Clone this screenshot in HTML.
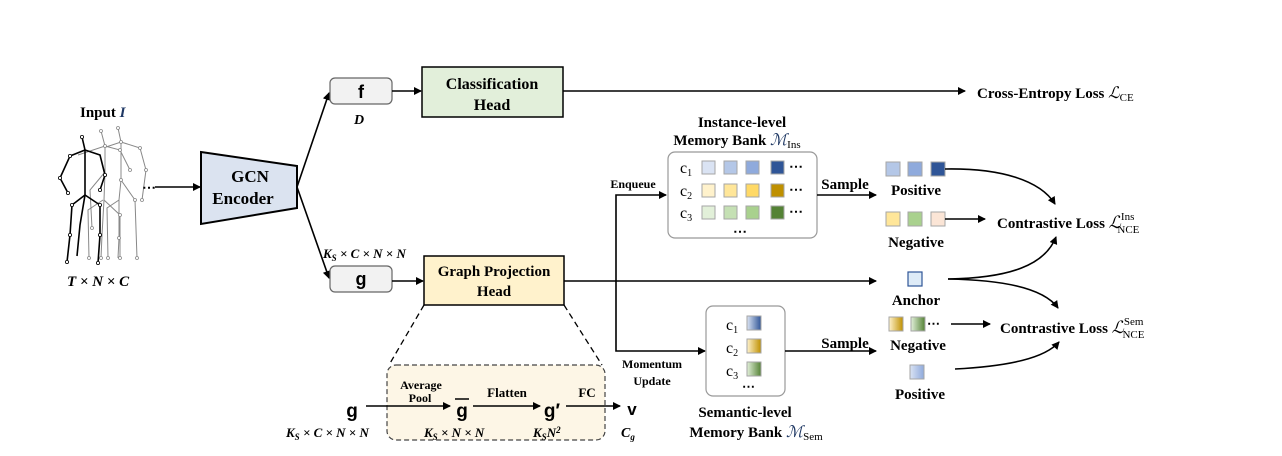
<!DOCTYPE html>
<html><head><meta charset="utf-8"><style>
html,body{margin:0;padding:0;background:#fff}
svg{display:block}
text{font-family:"Liberation Serif",serif;font-weight:bold;fill:#000}
.s{font-family:"Liberation Sans",sans-serif}
.i{font-style:italic}
</style></head><body>
<svg width="1282" height="456" viewBox="0 0 1282 456" xmlns="http://www.w3.org/2000/svg">
<defs>
<marker id="a" markerWidth="8" markerHeight="8" refX="7" refY="4" orient="auto" markerUnits="userSpaceOnUse"><path d="M0,0 L8,4 L0,8 z" fill="#000"/></marker>
<linearGradient id="gb" x1="0" x2="1"><stop offset="0" stop-color="#dae3f3"/><stop offset="1" stop-color="#2f5597"/></linearGradient>
<linearGradient id="gy" x1="0" x2="1"><stop offset="0" stop-color="#fff2cc"/><stop offset="1" stop-color="#bf9000"/></linearGradient>
<linearGradient id="gg" x1="0" x2="1"><stop offset="0" stop-color="#e2f0d9"/><stop offset="1" stop-color="#548235"/></linearGradient>
<linearGradient id="gbl" x1="0" x2="1"><stop offset="0" stop-color="#dae3f3"/><stop offset="1" stop-color="#8faadc"/></linearGradient>
</defs>

<!-- Input -->
<text x="80" y="117" font-size="15">Input <tspan class="i" fill="#1f3864">I</tspan></text>
<g fill="none" stroke="#888" stroke-width="1">
 <!-- figure 3 -->
 <polyline points="118,128 121,142 121,180 119,200 119,238 118,258"/>
 <polyline points="106,147 121,142 140,148 146,170 142,200"/>
 <polyline points="121,180 135,200 137,258"/>
 <polyline points="119,200 107,208 108,258"/>
 <!-- figure 2 -->
 <polyline points="101,131 105,146 105,172 104,200 102,235 101,258"/>
 <polyline points="78,155 105,146 120,150 130,170"/>
 <polyline points="105,172 90,190 92,228"/>
 <polyline points="104,200 120,215 120,258"/>
 <polyline points="103,200 88,210 89,258"/>
</g>
<g fill="#fff" stroke="#888" stroke-width="0.8">
 <circle cx="118" cy="128" r="1.5"/><circle cx="121" cy="142" r="1.5"/><circle cx="140" cy="148" r="1.5"/><circle cx="146" cy="170" r="1.5"/><circle cx="142" cy="200" r="1.5"/><circle cx="135" cy="200" r="1.5"/><circle cx="137" cy="258" r="1.5"/><circle cx="119" cy="238" r="1.5"/><circle cx="108" cy="258" r="1.5"/><circle cx="121" cy="180" r="1.5"/>
 <circle cx="101" cy="131" r="1.5"/><circle cx="105" cy="146" r="1.5"/><circle cx="120" cy="150" r="1.5"/><circle cx="130" cy="170" r="1.5"/><circle cx="92" cy="228" r="1.5"/><circle cx="120" cy="258" r="1.5"/><circle cx="89" cy="258" r="1.5"/><circle cx="101" cy="258" r="1.5"/><circle cx="120" cy="215" r="1.5"/>
</g>
<g fill="none" stroke="#000" stroke-width="1.6">
 <polyline points="82,137 85,150 85,195 80,225 77,256"/>
 <polyline points="85,150 70,156 60,178 68,193"/>
 <polyline points="85,150 100,155 105,175 100,190"/>
 <polyline points="85,195 72,205 70,235 67,262"/>
 <polyline points="85,195 100,205 100,235 98,263"/>
</g>
<g fill="#fff" stroke="#000" stroke-width="0.8">
 <circle cx="82" cy="137" r="1.6"/><circle cx="70" cy="156" r="1.6"/><circle cx="60" cy="178" r="1.6"/><circle cx="68" cy="193" r="1.6"/><circle cx="105" cy="175" r="1.6"/><circle cx="100" cy="190" r="1.6"/><circle cx="72" cy="205" r="1.6"/><circle cx="70" cy="235" r="1.6"/><circle cx="100" cy="205" r="1.6"/><circle cx="100" cy="235" r="1.6"/><circle cx="67" cy="262" r="1.6"/><circle cx="98" cy="263" r="1.6"/>
</g>
<text x="142" y="192" font-size="14">⋯</text>
<text x="67" y="286" font-size="15" class="i">T × N × C</text>
<line x1="155" y1="187" x2="200" y2="187" stroke="#000" stroke-width="1.6" marker-end="url(#a)"/>

<!-- GCN -->
<polygon points="201,152 297,166 297,208 201,224" fill="#dbe3f0" stroke="#000" stroke-width="2"/>
<text x="250" y="182" font-size="17" text-anchor="middle">GCN</text>
<text x="243" y="204" font-size="17" text-anchor="middle">Encoder</text>
<line x1="297" y1="187" x2="329" y2="93" stroke="#000" stroke-width="1.6" marker-end="url(#a)"/>
<line x1="297" y1="187" x2="329" y2="278" stroke="#000" stroke-width="1.6" marker-end="url(#a)"/>

<!-- f -->
<rect x="330" y="78" width="62" height="26" rx="5" fill="#f2f2f2" stroke="#666" stroke-width="1.2"/>
<text x="361" y="98" font-size="18" text-anchor="middle" class="s">f</text>
<text x="354" y="124" font-size="14" class="i" fill="#1f3864">D</text>
<line x1="392" y1="91" x2="421" y2="91" stroke="#000" stroke-width="1.6" marker-end="url(#a)"/>
<rect x="422" y="67" width="141" height="50" fill="#e2efda" stroke="#000" stroke-width="1.5"/>
<text x="492" y="89" font-size="16" text-anchor="middle">Classification</text>
<text x="492" y="110" font-size="16" text-anchor="middle">Head</text>
<line x1="563" y1="91" x2="965" y2="91" stroke="#000" stroke-width="1.6" marker-end="url(#a)"/>
<text x="977" y="98" font-size="15">Cross-Entropy Loss <tspan font-weight="normal" font-style="italic" font-size="16">ℒ</tspan><tspan font-weight="normal" font-size="11" dy="3">CE</tspan></text>

<!-- g -->
<text x="323" y="258" font-size="13" class="i">K<tspan font-size="9" dy="3">S</tspan><tspan dy="-3"> × C × N × N</tspan></text>
<rect x="330" y="266" width="62" height="26" rx="5" fill="#f2f2f2" stroke="#666" stroke-width="1.2"/>
<text x="361" y="285" font-size="18" text-anchor="middle" class="s">g</text>
<line x1="392" y1="281" x2="423" y2="281" stroke="#000" stroke-width="1.6" marker-end="url(#a)"/>
<rect x="424" y="256" width="140" height="49" fill="#fff2cc" stroke="#000" stroke-width="1.5"/>
<text x="494" y="276" font-size="15" text-anchor="middle">Graph Projection</text>
<text x="494" y="296" font-size="15" text-anchor="middle">Head</text>
<line x1="564" y1="281" x2="876" y2="281" stroke="#000" stroke-width="1.6" marker-end="url(#a)"/>

<!-- enqueue / momentum -->
<polyline points="616,281 616,195 666,195" fill="none" stroke="#000" stroke-width="1.6" marker-end="url(#a)"/>
<polyline points="616,281 616,351 705,351" fill="none" stroke="#000" stroke-width="1.6" marker-end="url(#a)"/>
<text x="633" y="188" font-size="12" text-anchor="middle">Enqueue</text>
<text x="652" y="368" font-size="12" text-anchor="middle">Momentum</text>
<text x="652" y="385" font-size="12" text-anchor="middle">Update</text>

<!-- Instance bank -->
<text x="742" y="127" font-size="15" text-anchor="middle">Instance-level</text>
<text x="737" y="145" font-size="15" text-anchor="middle">Memory Bank <tspan font-weight="normal" font-style="italic" font-size="16" fill="#1f3864">ℳ</tspan><tspan font-weight="normal" font-size="11" dy="3">Ins</tspan></text>
<rect x="668" y="152" width="149" height="86" rx="7" fill="#fff" stroke="#999" stroke-width="1.2"/>
<g>
<text x="680" y="173" font-size="16" style="font-weight:normal">c<tspan font-size="10" dy="3">1</tspan></text>
<text x="680" y="196" font-size="16" style="font-weight:normal">c<tspan font-size="10" dy="3">2</tspan></text>
<text x="680" y="218" font-size="16" style="font-weight:normal">c<tspan font-size="10" dy="3">3</tspan></text>
</g>
<g stroke="#a6a6a6" stroke-width="1">
<rect x="702" y="161" width="13" height="13" fill="#dae3f3"/><rect x="724" y="161" width="13" height="13" fill="#b4c7e7"/><rect x="746" y="161" width="13" height="13" fill="#8faadc"/><rect x="771" y="161" width="13" height="13" fill="#2f5597"/>
<rect x="702" y="184" width="13" height="13" fill="#fff2cc"/><rect x="724" y="184" width="13" height="13" fill="#ffe699"/><rect x="746" y="184" width="13" height="13" fill="#ffd966"/><rect x="771" y="184" width="13" height="13" fill="#bf9000"/>
<rect x="702" y="206" width="13" height="13" fill="#e2f0d9"/><rect x="724" y="206" width="13" height="13" fill="#c5e0b4"/><rect x="746" y="206" width="13" height="13" fill="#a9d18e"/><rect x="771" y="206" width="13" height="13" fill="#548235"/>
</g>
<g font-size="14"><text x="789" y="171">⋯</text><text x="789" y="194">⋯</text><text x="789" y="216">⋯</text><text x="733" y="236">⋯</text></g>
<line x1="817" y1="195" x2="876" y2="195" stroke="#000" stroke-width="1.6" marker-end="url(#a)"/>
<text x="845" y="189" font-size="15" text-anchor="middle">Sample</text>

<!-- Positive / negative ins -->
<g stroke="#a6a6a6">
<rect x="886" y="162" width="14" height="14" fill="#b4c7e7"/><rect x="908" y="162" width="14" height="14" fill="#8faadc"/><rect x="931" y="162" width="14" height="14" fill="#2f5597"/>
<rect x="886" y="212" width="14" height="14" fill="#ffe699"/><rect x="908" y="212" width="14" height="14" fill="#a9d18e"/><rect x="931" y="212" width="14" height="14" fill="#fbe5d6"/>
</g>
<text x="916" y="195" font-size="15" text-anchor="middle">Positive</text>
<text x="916" y="247" font-size="15" text-anchor="middle">Negative</text>
<path d="M945,169 C1000,168 1040,180 1055,204" fill="none" stroke="#000" stroke-width="1.6" marker-end="url(#a)"/>
<line x1="945" y1="219" x2="985" y2="219" stroke="#000" stroke-width="1.6" marker-end="url(#a)"/>
<text x="997" y="228" font-size="15">Contrastive Loss <tspan font-weight="normal" font-style="italic" font-size="17">ℒ</tspan><tspan font-weight="normal" font-size="11" dy="-8">Ins</tspan><tspan font-weight="normal" font-size="11" dx="-17" dy="13">NCE</tspan></text>

<!-- Anchor -->
<rect x="908" y="272" width="14" height="14" fill="#deebf7" stroke="#2f5597" stroke-width="1.2"/>
<text x="916" y="305" font-size="15" text-anchor="middle">Anchor</text>
<path d="M948,279 C1010,278 1045,265 1056,237" fill="none" stroke="#000" stroke-width="1.6" marker-end="url(#a)"/>
<path d="M948,279 C1010,280 1045,290 1058,308" fill="none" stroke="#000" stroke-width="1.6" marker-end="url(#a)"/>

<!-- Sem neg/pos -->
<rect x="889" y="317" width="14" height="14" fill="url(#gy)" stroke="#a6a6a6"/>
<rect x="911" y="317" width="14" height="14" fill="url(#gg)" stroke="#a6a6a6"/>
<text x="927" y="328" font-size="13">⋯</text>
<line x1="951" y1="324" x2="990" y2="324" stroke="#000" stroke-width="1.6" marker-end="url(#a)"/>
<text x="1000" y="333" font-size="15">Contrastive Loss <tspan font-weight="normal" font-style="italic" font-size="17">ℒ</tspan><tspan font-weight="normal" font-size="11" dy="-8">Sem</tspan><tspan font-weight="normal" font-size="11" dx="-21" dy="13">NCE</tspan></text>
<text x="918" y="350" font-size="15" text-anchor="middle">Negative</text>
<rect x="910" y="365" width="14" height="14" fill="url(#gbl)" stroke="#a6a6a6"/>
<text x="920" y="399" font-size="15" text-anchor="middle">Positive</text>
<path d="M955,369 C1010,366 1045,358 1059,342" fill="none" stroke="#000" stroke-width="1.6" marker-end="url(#a)"/>

<!-- Semantic bank -->
<rect x="706" y="306" width="79" height="90" rx="7" fill="#fff" stroke="#999" stroke-width="1.2"/>
<g>
<text x="726" y="330" font-size="16" style="font-weight:normal">c<tspan font-size="10" dy="3">1</tspan></text>
<text x="726" y="353" font-size="16" style="font-weight:normal">c<tspan font-size="10" dy="3">2</tspan></text>
<text x="726" y="376" font-size="16" style="font-weight:normal">c<tspan font-size="10" dy="3">3</tspan></text>
</g>
<rect x="747" y="316" width="14" height="14" fill="url(#gb)" stroke="#a6a6a6"/>
<rect x="747" y="339" width="14" height="14" fill="url(#gy)" stroke="#a6a6a6"/>
<rect x="747" y="362" width="14" height="14" fill="url(#gg)" stroke="#a6a6a6"/>
<text x="742" y="391" font-size="13">⋯</text>
<line x1="785" y1="351" x2="876" y2="351" stroke="#000" stroke-width="1.6" marker-end="url(#a)"/>
<text x="845" y="348" font-size="15" text-anchor="middle">Sample</text>
<text x="745" y="417" font-size="15" text-anchor="middle">Semantic-level</text>
<text x="756" y="437" font-size="15" text-anchor="middle">Memory Bank <tspan font-weight="normal" font-style="italic" font-size="16" fill="#1f3864">ℳ</tspan><tspan font-weight="normal" font-size="11" dy="3">Sem</tspan></text>

<!-- Zoom detail -->
<line x1="424" y1="305" x2="389" y2="365" stroke="#000" stroke-width="1.3" stroke-dasharray="6,4"/>
<line x1="564" y1="305" x2="602" y2="365" stroke="#000" stroke-width="1.3" stroke-dasharray="6,4"/>
<rect x="387" y="365" width="218" height="75" rx="9" fill="#fdf6e6" stroke="#444" stroke-width="1.2" stroke-dasharray="5,3"/>
<text x="352" y="417" font-size="19" text-anchor="middle" class="s">g</text>
<line x1="366" y1="406" x2="450" y2="406" stroke="#000" stroke-width="1.6" marker-end="url(#a)"/>
<text x="421" y="389" font-size="12" text-anchor="middle">Average</text>
<text x="420" y="402" font-size="12" text-anchor="middle">Pool</text>
<text x="462" y="417" font-size="19" text-anchor="middle" class="s">g</text>
<line x1="455" y1="399" x2="469" y2="399" stroke="#000" stroke-width="1.5"/>
<line x1="473" y1="406" x2="540" y2="406" stroke="#000" stroke-width="1.6" marker-end="url(#a)"/>
<text x="507" y="397" font-size="13" text-anchor="middle">Flatten</text>
<text x="552" y="417" font-size="19" text-anchor="middle" class="s">g′</text>
<line x1="566" y1="406" x2="620" y2="406" stroke="#000" stroke-width="1.6" marker-end="url(#a)"/>
<text x="587" y="397" font-size="13" text-anchor="middle">FC</text>
<text x="632" y="415" font-size="17" text-anchor="middle" class="s">v</text>
<text x="286" y="437" font-size="13" class="i">K<tspan font-size="9" dy="3">S</tspan><tspan dy="-3"> × C × N × N</tspan></text>
<text x="424" y="437" font-size="13" class="i">K<tspan font-size="9" dy="3">S</tspan><tspan dy="-3"> × N × N</tspan></text>
<text x="533" y="437" font-size="13" class="i">K<tspan font-size="9" dy="3">S</tspan><tspan dy="-3">N</tspan><tspan font-size="9" dy="-4">2</tspan></text>
<text x="621" y="437" font-size="14" class="i" fill="#1f3864">C<tspan font-size="9" dy="3">g</tspan></text>
</svg>
</body></html>
